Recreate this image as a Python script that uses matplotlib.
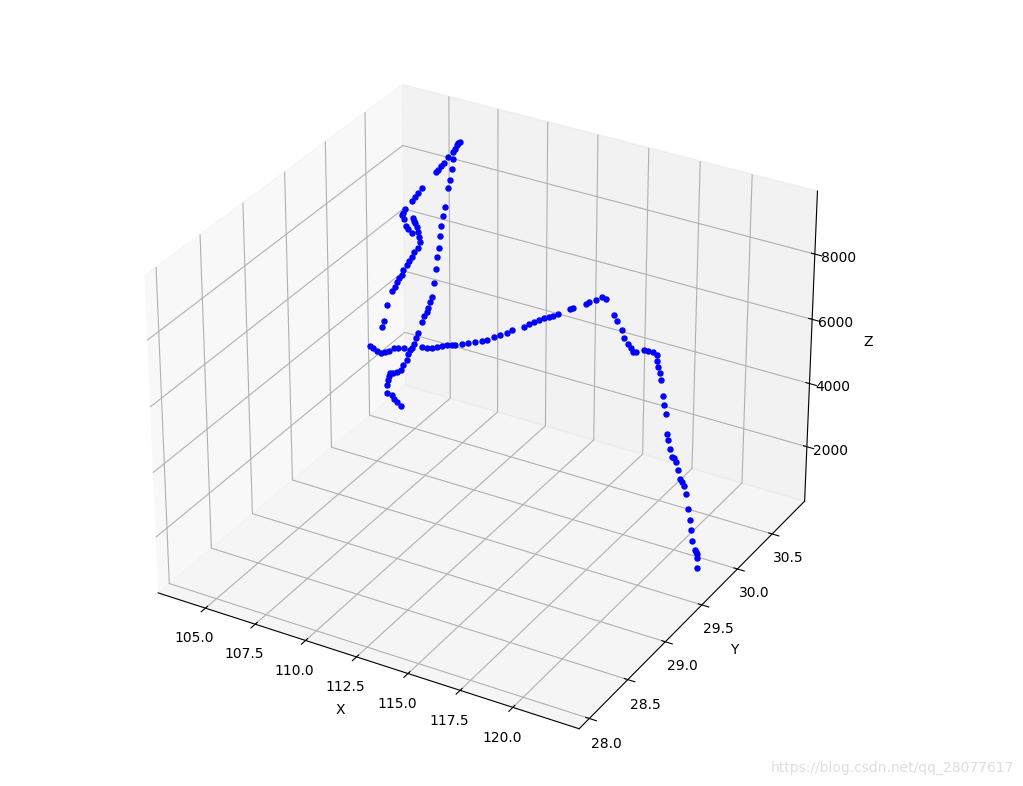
import numpy as np
import matplotlib
matplotlib.use("Agg")
import matplotlib.pyplot as plt

# track 1, low end on the right up to the peak
x1 = [121.99,121.91,121.87,121.75,121.63,121.45,121.32,121.22,121.05,120.86,120.73,120.56,120.39,120.25,120.08,119.94,119.78,119.60,119.46,119.34,119.19,119.06,118.93,118.79,118.66,118.49,118.40,118.33,118.05,117.79,117.52,117.10,116.89,116.72,116.53,116.26,116.08,115.80,115.58,115.14,114.88]
y1 = [29.75,29.77,29.78,29.80,29.82,29.83,29.85,29.86,29.88,29.90,29.91,29.93,29.95,29.96,29.98,29.99,30.01,30.03,30.04,30.06,30.08,30.09,30.11,30.12,30.14,30.16,30.17,30.19,30.21,30.22,30.24,30.25,30.27,30.29,30.30,30.32,30.34,30.35,30.37,30.38,30.40]
z1 = [625,881,977,973,968,1194,1471,1746,2014,2407,2609,2659,2678,2912,3086,3165,3122,3297,3531,3653,4195,4441,4655,5103,5255,5369,5518,5648,5640,5615,5558,5402,5323,5376,5448,5546,5709,5931,6038,6436,6412]

# track 1, peak to the left end
x2 = [114.58,114.24,114.13,113.49,113.34,112.75,112.54,112.34,112.09,111.84,111.63,111.38,111.13,110.53,110.31,109.96,109.66,109.30,109.09,108.73,108.37,108.07,107.75,107.59,107.33,107.08,106.86,106.60,106.34,106.08,105.71,105.19,104.88,104.67,104.44,104.23,104.02,103.82,103.65,103.49]
y2 = [30.40,30.40,30.39,30.39,30.39,30.39,30.38,30.38,30.38,30.38,30.37,30.37,30.37,30.37,30.36,30.36,30.36,30.36,30.35,30.35,30.35,30.35,30.34,30.34,30.34,30.34,30.33,30.33,30.33,30.33,30.32,30.32,30.32,30.32,30.31,30.31,30.31,30.31,30.30,30.30]
z2 = [6269,6148,6087,5852,5795,5537,5458,5392,5317,5211,5131,5025,4887,4687,4575,4450,4333,4176,4126,4031,3936,3850,3782,3755,3710,3632,3582,3504,3458,3445,3495,3274,3219,3182,3066,2997,2927,2955,3042,3079]

# track 2, top down to the floor
x3 = [106.54,106.39,106.29,106.23,106.13,106.02,105.87,105.76,105.65,105.60,105.54,105.44,105.38,105.27,105.16,105.06,104.95,104.90,104.74,104.63,104.42,104.31,104.09,103.99,103.88,103.82,103.61,103.50,103.29,103.07,102.91,102.86,102.80,102.74,102.74,103.00,103.11,103.27,103.48]
y3 = [30.70,30.70,30.70,30.70,30.70,30.70,30.70,30.70,30.70,30.70,30.70,30.70,30.70,30.70,30.70,30.70,30.70,30.70,30.70,30.70,30.70,30.70,30.70,30.70,30.70,30.70,30.70,30.70,30.70,30.70,30.70,30.70,30.70,30.70,30.70,30.70,30.70,30.70,30.70]
z3 = [9209,9000,8676,8358,8000,7735,7116,6817,6485,6161,5773,5470,5079,4615,4148,3969,3758,3620,3463,3251,2857,2676,2312,2228,2079,1873,1671,1487,1383,1312,1283,1175,1033,858,592,574,461,390,296]

# track 3, left strand back up to the top
x4 = [104.14,104.20,104.33,104.56,104.68,104.74,104.81,104.93,104.94,105.11,105.17,105.29,105.36,105.52,105.59,105.50,105.41,105.32,105.18,105.09,104.96,104.87,104.62,104.48,104.34,104.20,104.21,104.28,104.60,104.72,104.84,105.00,105.69,105.75,105.87,105.98,106.15,106.37,106.53,106.65]
y4 = [30.30,30.31,30.32,30.33,30.34,30.35,30.36,30.37,30.38,30.39,30.40,30.41,30.42,30.43,30.44,30.45,30.46,30.47,30.48,30.49,30.51,30.52,30.53,30.54,30.55,30.56,30.57,30.58,30.59,30.60,30.61,30.62,30.63,30.64,30.65,30.66,30.67,30.68,30.69,30.70]
z4 = [3802,3985,4498,4962,5089,5239,5357,5452,5593,5760,5878,6004,6153,6287,6467,6590,6712,6835,6918,6946,6981,6476,6542,6593,6771,6854,6900,7017,7302,7428,7553,7717,8306,8360,8484,8577,8770,8941,9164,9256]

x_ticks = [105, 107.5, 110, 112.5, 115, 117.5, 120]

fig = plt.figure(figsize=(10.23, 7.86), dpi=100)
ax = fig.add_axes([59.8/1023, 1-819.6/786, 831.5/1023, 831.5/786], projection="3d")
ax.view_init(30, -60)
ax.set_box_aspect((4, 4, 3), zoom=0.902)

for xs, ys, zs in [(x1, y1, z1), (x2, y2, z2), (x3, y3, z3), (x4, y4, z4)]:
    ax.scatter(xs, ys, zs, c="b", s=13, depthshade=False)

ax.set_xlim(102.6, 123.1)
ax.set_ylim(27.87, 30.98)
ax.set_zlim(250, 9900)
ax.set_xticks(x_ticks)
ax.set_xlabel("X", labelpad=8)
ax.set_ylabel("Y", labelpad=7)
ax.set_zlabel("Z", labelpad=7)
ax.tick_params(axis="x", pad=5.5)
ax.tick_params(axis="y", pad=4.5)

fig.text(1014/1023, 1 - 768/786, "https://blog.csdn.net/qq_28077617", color="#dedede",
         ha="right", va="center", fontsize=10)
fig.savefig("out.png", dpi=100)
